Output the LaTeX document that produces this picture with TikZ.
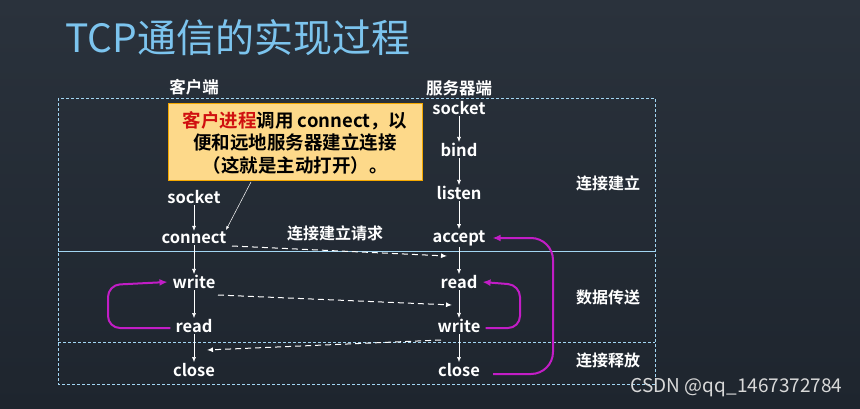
\documentclass[tikz,border=0pt]{standalone}
\usepackage{fontspec}
\setmainfont{Noto Sans CJK SC}[BoldFont={Noto Sans CJK SC Bold}]
\usetikzlibrary{arrows.meta,calc}
\definecolor{bgA}{HTML}{2A323C}
\definecolor{bgB}{HTML}{1E252E}
\definecolor{ttl}{HTML}{7CC4EE}
\definecolor{mag}{HTML}{C21DC6}
\definecolor{call}{HTML}{FDD98A}
\definecolor{callb}{HTML}{F5A800}
\definecolor{red}{HTML}{D01010}
\begin{document}
\begin{tikzpicture}[x=1pt,y=-1pt,
 lab/.style={text=white,font=\bfseries\fontsize{16.5}{18}\selectfont,inner sep=1pt},
 flow/.style={draw=white,-{Latex[length=5pt,width=4pt]},line width=0.6pt},
 msg/.style={draw=white,dashed,dash pattern=on 6pt off 4pt,-{Latex[length=6pt,width=5pt]},line width=1pt},
 loop/.style={draw=mag,line width=2pt,-{Latex[length=8pt,width=7pt]},rounded corners=12pt},
 frame/.style={draw=ttl!70!white,line width=0.5pt}]
\useasboundingbox (0,0) rectangle (860,409);
\shade[top color=bgA,bottom color=bgB] (0,0) rectangle (860,409);
\node[anchor=west,text=ttl,font=\fontsize{39}{42}\selectfont] (title) at (62,38) {TCP通信的实现过程};
\draw[frame,dashed,dash pattern=on 3pt off 2pt] (58,98) rectangle (655,384);
\draw[frame] (58,251) -- (655,251);
\draw[frame,dashed,dash pattern=on 3pt off 2pt] (58,342) -- (655,342);
\node[lab] (ch) at (194,87) {客户端};
\node[lab] (sh) at (459,88) {服务器端};
\node[lab] (c1) at (194,197) {socket};
\node[lab] (c2) at (194,238) {connect};
\node[lab] (c3) at (194,282) {write};
\node[lab] (c4) at (194,326) {read};
\node[lab] (c5) at (194,370) {close};
\node[lab] (s1) at (459,108) {socket};
\node[lab] (s2) at (459,150) {bind};
\node[lab] (s3) at (459,193) {listen};
\node[lab] (s4) at (459,238) {accept};
\node[lab] (s5) at (459,282) {read};
\node[lab] (s6) at (459,326) {write};
\node[lab] (s7) at (459,370) {close};
\node[lab,font=\bfseries\fontsize{16}{18}\selectfont] (r1) at (608,183) {连接建立};
\node[lab,font=\bfseries\fontsize{16}{18}\selectfont] (r2) at (608,297) {数据传送};
\node[lab,font=\bfseries\fontsize{16}{18}\selectfont] (r3) at (608,360) {连接释放};
\node[lab,font=\bfseries\fontsize{16}{18}\selectfont] (req) at (335,233) {连接建立请求};
\foreach \a/\b in {c1/c2,c2/c3,c3/c4,c4/c5,s1/s2,s2/s3,s3/s4,s4/s5,s5/s6,s6/s7}
 \draw[flow] (\a.south) -- (\b.north);
\node[draw=callb,fill=call,line width=1pt,minimum width=254pt,minimum height=77pt,align=center,
 font=\bfseries\fontsize{18.5}{22.5}\selectfont,inner sep=2pt] (cb) at (295,142.5)
 {\textcolor{red}{客户进程}调用 connect，以\\便和远地服务器建立连接\\（这就是主动打开）。};
\coordinate (ct) at (251,182);
\draw[draw=white,line width=0.5pt,-{Latex[length=4pt,width=3pt]}] (ct) -- (226,230);
\coordinate (m1a) at (232,246); \coordinate (m1b) at (447,256);
\draw[msg] (m1a) -- (m1b);
\coordinate (m2a) at (218,295); \coordinate (m2b) at (452,305);
\draw[msg] (m2a) -- (m2b);
\coordinate (m3a) at (441,340); \coordinate (m3b) at (207,350);
\draw[msg] (m3a) -- (m3b);
\draw[loop] ($(c4.west)+(-4,2)$) -- (108,328) -- (108,285) -- ($(c3.west)+(-4,0)$);
\draw[loop] ($(s6.east)+(4,2)$) -- (520,328) -- (520,285) -- ($(s5.east)+(4,0)$);
\draw[loop,rounded corners=22pt] ($(s7.east)+(12,4)$) -- (553,374) -- (553,238) -- ($(s4.east)+(6,0)$);
\node[text=white!85!black,anchor=east,font=\fontsize{19}{21}\selectfont] (wm) at (846,388) {CSDN @qq\_1467372784};
\end{tikzpicture}
\end{document}
